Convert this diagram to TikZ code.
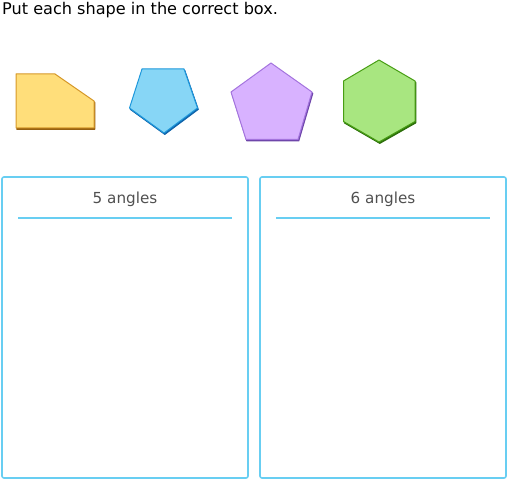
\documentclass[tikz,border=0pt]{standalone}
\usepackage{fontspec}
\setmainfont{DejaVu Sans}
\usepackage{color}
\definecolor{myboxblue}{RGB}{104,206,242}
\definecolor{mytextgray}{RGB}{80,80,80}
\definecolor{myyellow}{RGB}{255,222,122}
\definecolor{myyellowedge}{RGB}{214,152,40}
\definecolor{myyellowdark}{RGB}{150,96,16}
\definecolor{myblue}{RGB}{135,214,246}
\definecolor{myblueedge}{RGB}{30,152,220}
\definecolor{mybluedark}{RGB}{16,100,170}
\definecolor{mypurple}{RGB}{216,178,255}
\definecolor{mypurpleedge}{RGB}{164,116,222}
\definecolor{mypurpledark}{RGB}{110,70,170}
\definecolor{mygreen}{RGB}{168,230,128}
\definecolor{mygreenedge}{RGB}{72,158,20}
\definecolor{mygreendark}{RGB}{44,110,10}
\usepackage{tikz}
\usetikzlibrary{positioning}

\begin{document}
\begin{tikzpicture}[
  x=1pt, y=-1pt,
  sortbox/.style={
    draw=myboxblue,
    line width=1.6pt,
    rounded corners=2pt
    },
  boxrule/.style={
    draw=myboxblue,
    line width=1.6pt
    },
  boxtitle/.style={
    anchor=base,
    inner sep=0pt,
    text=mytextgray,
    font=\fontsize{15.2}{17}\selectfont
    },
  shapeshadow/.style={
    fill=#1,
    draw=#1,
    line width=1pt,
    line join=round
    },
  shapebody/.style={
    line width=1pt,
    line join=round
    }
]
\useasboundingbox (0,0) rectangle (508,481);

% instruction
\node[anchor=base west, inner sep=0pt, font=\fontsize{16.1}{18}\selectfont]
  (prompt) at (2,14.5) {Put each shape in the correct box.};

% shapes to sort
\draw[shapeshadow=myyellowdark, shift={(0.8,1.4)}]
  (16,74) -- (55,74) -- (94,101) -- (94,128) -- (16,128) -- cycle;
\draw[shapebody, fill=myyellow, draw=myyellowedge]
  (16,74) -- (55,74) -- (94,101) -- (94,128) -- (16,128) -- cycle;

\draw[shapeshadow=mybluedark, shift={(0.8,1.4)}]
  (142,69) -- (184,69) -- (197.5,108) -- (164,133) -- (129.5,108) -- cycle;
\draw[shapebody, fill=myblue, draw=myblueedge]
  (142,69) -- (184,69) -- (197.5,108) -- (164,133) -- (129.5,108) -- cycle;

\draw[shapeshadow=mypurpledark, shift={(0.8,1.4)}]
  (271,63) -- (312,92) -- (298,139.5) -- (246,139.5) -- (231,92) -- cycle;
\draw[shapebody, fill=mypurple, draw=mypurpleedge]
  (271,63) -- (312,92) -- (298,139.5) -- (246,139.5) -- (231,92) -- cycle;

\draw[shapeshadow=mygreendark, shift={(0.8,1.4)}]
  (379,60) -- (415,81) -- (415,121.5) -- (379,142) -- (343.5,121.5) -- (343.5,81) -- cycle;
\draw[shapebody, fill=mygreen, draw=mygreenedge]
  (379,60) -- (415,81) -- (415,121.5) -- (379,142) -- (343.5,121.5) -- (343.5,81) -- cycle;

% answer boxes
\draw[sortbox] (2,177) rectangle (248,478);
\node[boxtitle] (five) at (125,204) {5 angles};
\coordinate (fiveL) at (18,218);
\coordinate (fiveR) at (232,218);
\draw[boxrule] (fiveL) -- (fiveR);

\draw[sortbox] (260,177) rectangle (506,478);
\node[boxtitle] (six) at (383,204) {6 angles};
\coordinate (sixL) at (276,218);
\coordinate (sixR) at (490,218);
\draw[boxrule] (sixL) -- (sixR);
\end{tikzpicture}
\end{document}
